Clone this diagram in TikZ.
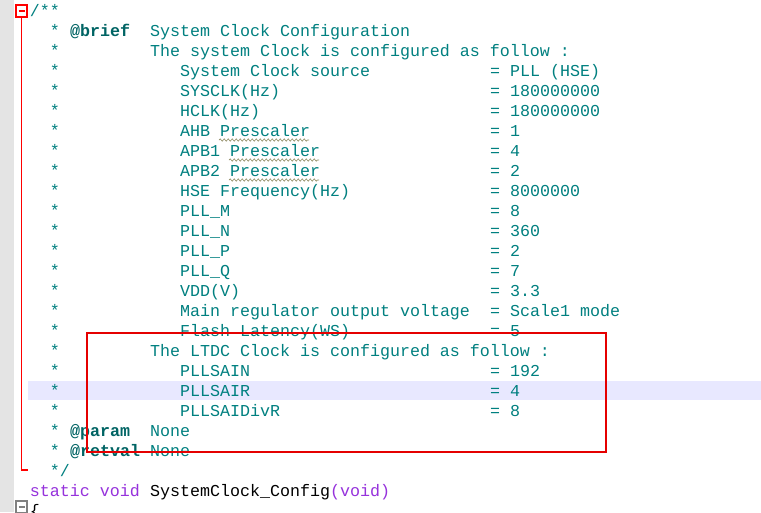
\documentclass[tikz,border=0pt]{standalone}
\usepackage{fontspec}
\setmonofont{Liberation Mono}
\usetikzlibrary{decorations.pathmorphing}
\definecolor{cmt}{RGB}{0,128,128}
\definecolor{cmtb}{RGB}{0,100,100}
\definecolor{kw}{RGB}{150,50,220}
\definecolor{hl}{RGB}{232,232,255}
\definecolor{gut}{RGB}{228,228,228}
\tikzset{
  code/.style={anchor=base west,inner sep=0pt,outer sep=0pt,font=\fontsize{12.5pt}{15pt}\ttfamily,text=cmt},
  tag/.style={code,font=\fontsize{12.5pt}{15pt}\ttfamily\bfseries,text=cmtb},
  plain/.style={code,text=black},
  kwd/.style={code,text=kw},
  wavy/.style={draw=gray!70!olive,line width=0.5pt,decorate,decoration={snake,amplitude=0.8,segment length=3}},
  fold/.style={draw=red,line width=0.8pt}
}
\newcommand{\ct}[5][code]{\node[#1] (#2) at ({30+10*#3},{16+20*#4}) {#5};}
\begin{document}
\begin{tikzpicture}[x=0.75pt,y=-0.75pt]
\useasboundingbox (0,0) rectangle (761,512);
\fill[white] (0,0) rectangle (761,512);
\fill[gut] (0,0) rectangle (14,512);
\fill[hl] (28,381) rectangle (761,400);
% fold markers
\draw[fold] (16,5) rectangle (27,17);
\draw[fold] (18.5,11) -- (24.5,11);
\coordinate (fa) at (21.5,17);
\coordinate (fb) at (21.5,470);
\coordinate (fc) at (28,470);
\draw[red,line width=0.8pt] (fa) -- (fb) -- (fc);
\draw[gray,line width=0.8pt] (16,501) rectangle (27,513);
\draw[gray,line width=0.8pt] (18.5,507) -- (24.5,507);
% text
\ct{l0}{0}{0}{/**}
\foreach \i in {1,...,22} {\node[code] (s\i) at (50,{16+20*\i}) {*};}
\ct[tag]{brief}{4}{1}{@brief}
\ct{t1}{12}{1}{System Clock Configuration}
\ct{t2}{12}{2}{The system Clock is configured as follow :}
\ct{a3}{15}{3}{System Clock source}\ct{e3}{46}{3}{= PLL (HSE)}
\ct{a4}{15}{4}{SYSCLK(Hz)}\ct{e4}{46}{4}{= 180000000}
\ct{a5}{15}{5}{HCLK(Hz)}\ct{e5}{46}{5}{= 180000000}
\ct{a6}{15}{6}{AHB Prescaler}\ct{e6}{46}{6}{= 1}
\ct{a7}{15}{7}{APB1 Prescaler}\ct{e7}{46}{7}{= 4}
\ct{a8}{15}{8}{APB2 Prescaler}\ct{e8}{46}{8}{= 2}
\ct{a9}{15}{9}{HSE Frequency(Hz)}\ct{e9}{46}{9}{= 8000000}
\ct{a10}{15}{10}{PLL\_M}\ct{e10}{46}{10}{= 8}
\ct{a11}{15}{11}{PLL\_N}\ct{e11}{46}{11}{= 360}
\ct{a12}{15}{12}{PLL\_P}\ct{e12}{46}{12}{= 2}
\ct{a13}{15}{13}{PLL\_Q}\ct{e13}{46}{13}{= 7}
\ct{a14}{15}{14}{VDD(V)}\ct{e14}{46}{14}{= 3.3}
\ct{a15}{15}{15}{Main regulator output voltage}\ct{e15}{46}{15}{= Scale1 mode}
\ct{a16}{15}{16}{Flash Latency(WS)}\ct{e16}{46}{16}{= 5}
\ct{t17}{12}{17}{The LTDC Clock is configured as follow :}
\ct{a18}{15}{18}{PLLSAIN}\ct{e18}{46}{18}{= 192}
\ct{a19}{15}{19}{PLLSAIR}\ct{e19}{46}{19}{= 4}
\ct{a20}{15}{20}{PLLSAIDivR}\ct{e20}{46}{20}{= 8}
\ct[tag]{param}{4}{21}{@param}\ct{n21}{12}{21}{None}
\ct[tag]{retval}{4}{22}{@retval}\ct{n22}{12}{22}{None}
\ct{l23}{2}{23}{*/}
\ct[kwd]{st}{0}{24}{static void}\ct[plain]{fn}{12}{24}{SystemClock\_Config}\ct[kwd]{ar}{30}{24}{(void)}
\ct[plain]{br}{0}{25}{\{}
% wavy underlines under Prescaler
\draw[wavy] (219,140) -- (309,140);
\draw[wavy] (229,160) -- (319,160);
\draw[wavy] (229,180) -- (319,180);
% red highlight box
\draw[red!90!black,line width=2.2pt] (87,333) rectangle (606,452);
\end{tikzpicture}
\end{document}
